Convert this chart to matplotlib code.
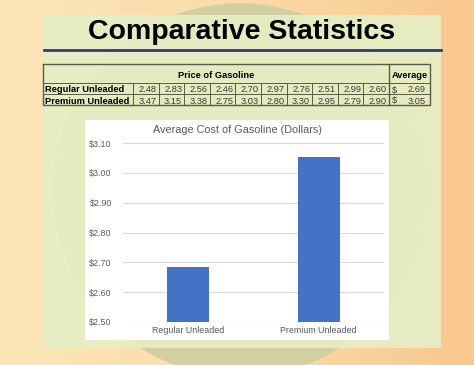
import matplotlib.pyplot as plt
import numpy as np
from matplotlib.patches import Rectangle, Circle
from matplotlib.colors import LinearSegmentedColormap

# data
fuel_types = ['Regular Unleaded', 'Premium Unleaded']
regular = ['2.48', '2.83', '2.56', '2.46', '2.70', '2.97', '2.76', '2.51', '2.99', '2.60']
premium = ['3.47', '3.15', '3.38', '2.75', '3.03', '2.80', '3.30', '2.95', '2.79', '2.90']
avg_text = ['2.69', '3.05']
avg_cost = [2.686, 3.052]
yticks = [2.5, 2.6, 2.7, 2.8, 2.9, 3.0, 3.1]

W, H = 474, 365
fig = plt.figure(figsize=(W / 100, H / 100), dpi=100)

# background slide, drawn in pixel coords
bg = fig.add_axes([0, 0, 1, 1])
bg.set_xlim(0, W)
bg.set_ylim(H, 0)
bg.axis('off')

cmap = LinearSegmentedColormap.from_list('slide', ['#fbe6b8', '#fadcaa', '#f8c88e'])
grad = np.linspace(0, 1, 256).reshape(1, -1)
bg.imshow(grad, cmap=cmap, extent=[0, W, H, 0], aspect='auto', zorder=0)
bg.add_patch(Circle((240, 190), 186, color='#d2d0a0', zorder=1))
bg.add_patch(Rectangle((43, 15), 398, 333, facecolor='#e6eec4', alpha=0.93, zorder=2))

# title
bg.text(242, 32, 'Comparative Statistics', ha='center', va='center', fontsize=20.5,
        fontweight='bold', family='Liberation Sans', color='black', zorder=3)
bg.plot([44, 441], [50, 50], color='#2b3a7a', lw=2, zorder=3)

# table
x0, x1, xp, xa = 43, 430, 133, 389
rows_y = [64, 83, 94, 105]
lc = '#5a5a48'
bg.plot([x0, x1, x1, x0, x0], [64, 64, 105, 105, 64], color=lc, lw=1.0, zorder=3)
for y in rows_y[1:3]:
    bg.plot([x0, x1], [y, y], color=lc, lw=0.7, zorder=3)
bg.plot([xa, xa], [64, 105], color=lc, lw=1.0, zorder=3)
cw = (xa - xp) / len(regular)
for i in range(len(regular) + 1):
    bg.plot([xp + i * cw, xp + i * cw], [83, 105], color=lc, lw=0.7, zorder=3)

tf = dict(family='Liberation Sans', fontsize=6.7, va='center_baseline', zorder=4)
bg.text((x0 + xa) / 2, 74, 'Price of Gasoline', ha='center', fontweight='bold', **tf)
bg.text((xa + x1) / 2, 74, 'Average', ha='center', fontweight='bold', **tf)
for r, (name, vals) in enumerate(zip(fuel_types, [regular, premium])):
    yc = (rows_y[r + 1] + rows_y[r + 2]) / 2 + 0.5
    bg.text(x0 + 2, yc, name, ha='left', fontweight='bold', **tf)
    for i, v in enumerate(vals):
        bg.text(xp + (i + 1) * cw - 2, yc, v, ha='right', color='#3a3a3a', **tf)
    bg.text(xa + 3, yc, '$', ha='left', color='#3a3a3a', **tf)
    bg.text(x1 - 4, yc, avg_text[r], ha='right', color='#3a3a3a', **tf)

# chart box
bg.add_patch(Rectangle((85, 120), 304, 220, facecolor='white', zorder=3))
bg.text(237, 130, 'Average Cost of Gasoline (Dollars)', ha='center', va='center',
        fontsize=7.8, family='Liberation Sans', color='#595959', zorder=4)

ax = fig.add_axes([123 / W, (H - 322) / H, 261 / W, 179 / H])
ax.patch.set_alpha(0)
ax.bar(range(len(fuel_types)), avg_cost, width=0.32, color='#4472c4', zorder=3)
ax.set_xlim(-0.5, 1.5)
ax.set_ylim(2.5, 3.1)
ax.set_yticks(yticks)
ax.set_yticklabels(['${:.2f}'.format(t) for t in yticks])
ax.set_xticks(range(len(fuel_types)))
ax.set_xticklabels(fuel_types)
ax.grid(axis='y', color='#d9d9d9', lw=0.8, zorder=0)
for s in ax.spines.values():
    s.set_visible(False)
ax.tick_params(length=0, labelsize=6.4, labelcolor='#595959')
ax.tick_params(axis='y', pad=8)
ax.tick_params(axis='x', pad=3)
for lab in ax.get_xticklabels() + ax.get_yticklabels():
    lab.set_family('Liberation Sans')

plt.savefig('out.png', dpi=100)
